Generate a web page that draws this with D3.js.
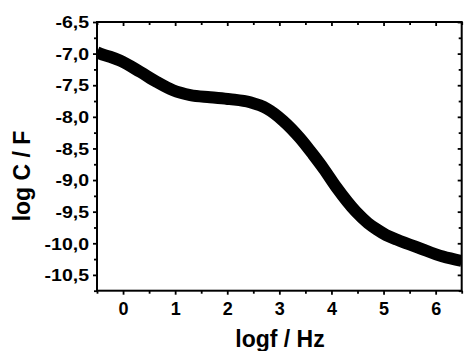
<!DOCTYPE html>
<html>
<head>
<meta charset="utf-8">
<script src="https://cdn.jsdelivr.net/npm/d3@7"></script>
<style>
  body { margin: 0; background: #fff; }
  svg { display: block; }
  text { font-family: "Liberation Sans", Arial, sans-serif; font-weight: bold; fill: #000; }
</style>
</head>
<body>
<svg id="plot" width="474" height="351"></svg>
<script>
// values
const logF = [-0.5, -0.44, -0.25, -0.06, 0.33, 0.65, 0.96, 1.29, 1.67, 2.05, 2.44, 2.76, 3.07, 3.40, 3.65, 3.85, 4.10, 4.47, 4.70, 4.87, 5.05, 5.25, 5.70, 6.14, 6.5];
const logC = [-6.98, -7.0, -7.05, -7.11, -7.29, -7.45, -7.58, -7.655, -7.69, -7.72, -7.77, -7.87, -8.06, -8.34, -8.60, -8.82, -9.12, -9.50, -9.68, -9.78, -9.87, -9.94, -10.08, -10.21, -10.28];
const xTicks = [0, 1, 2, 3, 4, 5, 6];
const yTicks = [-6.5, -7.0, -7.5, -8.0, -8.5, -9.0, -9.5, -10.0, -10.5];

const svg = d3.select("#plot");
const margin = { top: 22, right: 12.3, bottom: 60.3, left: 97 };
const width = 474 - margin.left - margin.right;
const height = 351 - margin.top - margin.bottom;

const x = d3.scaleLinear().domain([-0.5, 6.5]).range([0, width]);
const y = d3.scaleLinear().domain([-10.75, -6.5]).range([height, 0]);

const g = svg.append("g").attr("transform", `translate(${margin.left}, ${margin.top})`);

g.append("clipPath").attr("id", "clip")
  .append("rect").attr("width", width).attr("height", height);

const pts = logF.map((f, i) => ({ f: f, c: logC[i] }));
const line = d3.line()
  .x((d) => x(d.f))
  .y((d) => y(d.c))
  .curve(d3.curveMonotoneX);

g.append("path")
  .datum(pts)
  .attr("clip-path", "url(#clip)")
  .attr("fill", "none")
  .attr("stroke", "#000")
  .attr("stroke-width", 12)
  .attr("stroke-linejoin", "round")
  .attr("d", line);

const comma = (v) => d3.format(".1f")(v).replace(".", ",").replace("−", "-");
const xMinor = d3.range(-0.5, 6.51, 0.5);
const yMinor = d3.range(-10.75, -6.49, 0.25);

function styleAxis(sel) {
  sel.select(".domain").remove();
  sel.selectAll(".tick line").attr("stroke", "#000").attr("stroke-width", 1.8);
}

// bottom axis, outward ticks
const xAxis = g.append("g").attr("transform", `translate(0, ${height})`)
  .call(d3.axisBottom(x).tickValues(xMinor).tickSize(4).tickFormat((d) => xTicks.includes(d) ? d : ""));
styleAxis(xAxis);
xAxis.selectAll(".tick").filter((d) => !Number.isInteger(d)).select("line").attr("y2", 3);
xAxis.selectAll(".tick text").attr("y", 12).attr("dy", "0.71em").style("font-size", "18px");

// top axis, inward ticks
const xTop = g.append("g")
  .call(d3.axisTop(x).tickValues(xMinor).tickSize(-4).tickFormat(""));
styleAxis(xTop);
xTop.selectAll(".tick").filter((d) => !Number.isInteger(d)).select("line").attr("y2", 3);

// left axis, outward ticks
const yAxis = g.append("g")
  .call(d3.axisLeft(y).tickValues(yMinor).tickSize(4).tickFormat((d) => yTicks.some((t) => Math.abs(t - d) < 1e-6) ? comma(d) : ""));
styleAxis(yAxis);
yAxis.selectAll(".tick").filter((d) => Math.abs(d * 2 - Math.round(d * 2)) > 1e-6).select("line").attr("x2", -3);
yAxis.selectAll(".tick text")
  .attr("x", null)
  .attr("transform", "translate(-8, 0) scale(1.22, 1)")
  .attr("dy", "0.36em")
  .style("font-size", "16px");

// right axis, inward ticks
const yRight = g.append("g").attr("transform", `translate(${width}, 0)`)
  .call(d3.axisRight(y).tickValues(yMinor).tickSize(-4).tickFormat(""));
styleAxis(yRight);
yRight.selectAll(".tick").filter((d) => Math.abs(d * 2 - Math.round(d * 2)) > 1e-6).select("line").attr("x2", -3);

// frame
g.append("rect")
  .attr("width", width).attr("height", height)
  .attr("fill", "none").attr("stroke", "#000").attr("stroke-width", 2);

// titles
svg.append("text")
  .attr("x", 280).attr("y", 347)
  .attr("text-anchor", "middle")
  .style("font-size", "23px")
  .text("logf / Hz");

svg.append("text")
  .attr("transform", "translate(30, 176) rotate(-90)")
  .attr("text-anchor", "middle")
  .style("font-size", "23px")
  .text("log C / F");
</script>
</body>
</html>
